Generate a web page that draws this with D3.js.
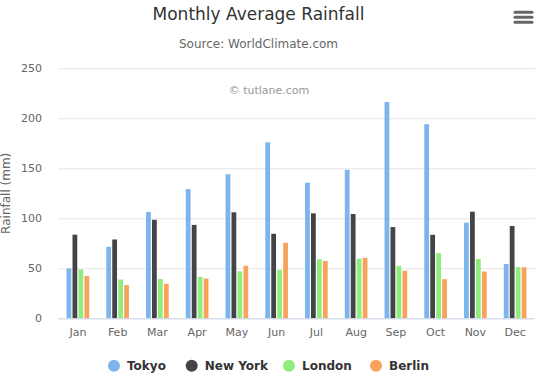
<!DOCTYPE html>
<html>
<head>
<meta charset="utf-8">
<script src="https://cdnjs.cloudflare.com/ajax/libs/d3/7.8.5/d3.min.js"></script>
<style>
  body { margin: 0; background: #fff; }
  text { font-family: "DejaVu Sans", Verdana, sans-serif; }
</style>
</head>
<body>
<div id="chart"></div>
<script>
// data
const months = ["Jan", "Feb", "Mar", "Apr", "May", "Jun", "Jul", "Aug", "Sep", "Oct", "Nov", "Dec"];
const seriesNames = ["Tokyo", "New York", "London", "Berlin"];
const tokyo = [49.9, 71.5, 106.4, 129.2, 144.0, 176.0, 135.6, 148.5, 216.4, 194.1, 95.6, 54.4];
const newYork = [83.6, 78.8, 98.5, 93.4, 106.0, 84.5, 105.0, 104.3, 91.2, 83.5, 106.6, 92.3];
const london = [48.9, 38.8, 39.3, 41.4, 47.0, 48.3, 59.0, 59.6, 52.4, 65.2, 59.3, 51.2];
const berlin = [42.4, 33.2, 34.5, 39.7, 52.6, 75.5, 57.4, 60.4, 47.6, 39.1, 46.8, 51.1];
const yTicks = [0, 50, 100, 150, 200, 250];
const colors = ["#7cb5ec", "#434348", "#90ed7d", "#f7a35c"];

const seriesValues = [tokyo, newYork, london, berlin];

let width = 535, height = 375;
let plotLeft = 58, plotRight = 535, plotTop = 68.3, plotBottom = 318.3;

let svg = d3.select("#chart").append("svg")
  .attr("width", width)
  .attr("height", height);

// scales
let xScale = d3.scaleBand()
  .domain(months)
  .range([plotLeft, plotRight]);

let xInner = d3.scaleBand()
  .domain(seriesNames)
  .range([xScale.bandwidth() * 0.2, xScale.bandwidth() * 0.8])
  .paddingInner(0.2)
  .paddingOuter(0.1);

let yScale = d3.scaleLinear()
  .domain([0, 250])
  .range([plotBottom, plotTop]);

let color = d3.scaleOrdinal().domain(seriesNames).range(colors);

// y axis + grid
let y_ax = svg.append("g").attr("transform", `translate(${plotLeft},0)`)
  .call(d3.axisLeft(yScale).tickValues(yTicks).tickSize(-(plotRight - plotLeft)).tickPadding(16));
y_ax.select(".domain").remove();
y_ax.selectAll(".tick line").attr("stroke", "#e6e6e6");
y_ax.selectAll(".tick text").attr("fill", "#666").style("font-size", "11px");

// bars
svg.append("g").selectAll("g")
  .data(months)
  .join("g")
  .attr("transform", d => `translate(${xScale(d)},0)`)
  .selectAll("rect")
  .data((m, i) => seriesNames.map((s, j) => ({ s: s, v: seriesValues[j][i] })))
  .join("rect")
  .attr("x", d => xInner(d.s))
  .attr("width", xInner.bandwidth())
  .attr("y", d => yScale(d.v))
  .attr("height", d => yScale(0) - yScale(d.v))
  .attr("fill", d => color(d.s));

// x axis
let x_ax = svg.append("g").attr("transform", `translate(0,${plotBottom})`)
  .call(d3.axisBottom(xScale).tickSize(0).tickPadding(10));
x_ax.select(".domain").attr("stroke", "#ccd6eb");
x_ax.selectAll(".tick text").attr("fill", "#666").style("font-size", "11px");

// y axis title
svg.append("text")
  .attr("transform", `translate(10,${(plotTop + plotBottom) / 2}) rotate(-90)`)
  .attr("text-anchor", "middle")
  .attr("fill", "#666")
  .style("font-size", "12px")
  .text("Rainfall (mm)");

// title / subtitle
svg.append("text")
  .attr("x", 258.5).attr("y", 20)
  .attr("text-anchor", "middle")
  .attr("fill", "#333")
  .style("font-size", "17px")
  .text("Monthly Average Rainfall");

svg.append("text")
  .attr("x", 258.5).attr("y", 48)
  .attr("text-anchor", "middle")
  .attr("fill", "#666")
  .style("font-size", "12px")
  .text("Source: WorldClimate.com");

// watermark
svg.append("text")
  .attr("x", 269).attr("y", 94)
  .attr("text-anchor", "middle")
  .attr("fill", "#999")
  .style("font-size", "11px")
  .text("© tutlane.com");

// menu button
svg.append("g").selectAll("line")
  .data([12.3, 17.3, 22.3])
  .join("line")
  .attr("x1", 515).attr("x2", 532)
  .attr("y1", d => d).attr("y2", d => d)
  .attr("stroke", "#666")
  .attr("stroke-width", 3)
  .attr("stroke-linecap", "round");

// legend
let legendX = [114, 191.7, 289, 376];
let legend = svg.append("g").selectAll("g")
  .data(seriesNames)
  .join("g")
  .attr("transform", (d, i) => `translate(${legendX[i]},365.7)`);
legend.append("circle").attr("r", 6).attr("fill", d => color(d));
legend.append("text")
  .attr("x", 13).attr("dy", "0.35em")
  .attr("fill", "#333")
  .style("font-size", "12px")
  .style("font-weight", "bold")
  .text(d => d);
</script>
</body>
</html>
